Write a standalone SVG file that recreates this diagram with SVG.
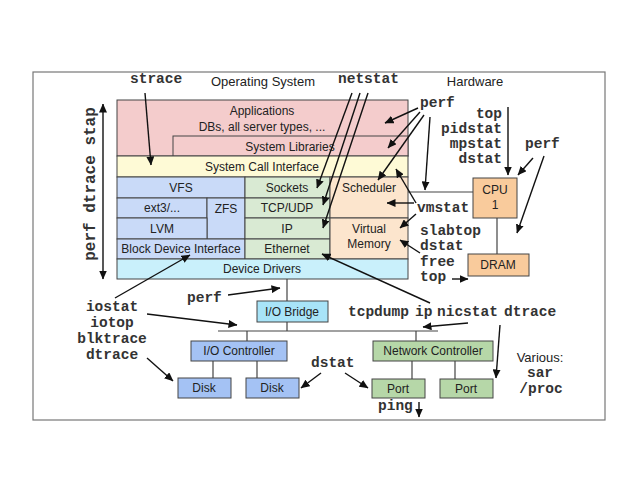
<svg xmlns="http://www.w3.org/2000/svg" width="638" height="493" viewBox="0 0 638 493">
<defs>
<marker id="ah" markerUnits="userSpaceOnUse" markerWidth="9" markerHeight="8" viewBox="0 0 9 8" refX="8.5" refY="4" orient="auto-start-reverse"><path d="M0,0 L9,4 L0,8 z" fill="#111"/></marker>
</defs>
<style>
.bx{stroke:#444;stroke-width:1}
.t{font-family:"Liberation Sans",Arial,sans-serif;font-size:12px;fill:#222;text-anchor:middle}
.h{font-family:"Liberation Sans",Arial,sans-serif;font-size:13px;fill:#222;text-anchor:middle}
.m{font-family:"Liberation Mono","Courier New",monospace;font-size:14.5px;font-weight:bold;fill:#333}
.c{text-anchor:middle}
.r{text-anchor:end}
.a{stroke:#111;stroke-width:1.4;fill:none;marker-end:url(#ah)}
.l{stroke:#444;stroke-width:1.2;fill:none}
.pk{fill:#f4cccc}.yl{fill:#fefad6}.bl{fill:#c9daf8}.gn{fill:#d9ead3}.or{fill:#fce5cd}.cy{fill:#c9f0fb}
.hw{fill:#f9cb9c}.br{fill:#a8e4f8}.db{fill:#a4c2f4}.dg{fill:#b6d7a8}
</style>
<rect x="0" y="0" width="638" height="493" fill="#fff"/>
<rect x="33" y="72" width="572" height="348" fill="#fff" stroke="#777" stroke-width="1.2"/>
<text class="h" x="263" y="86">Operating System</text>
<text class="h" x="475" y="86">Hardware</text>

<g id="applications"><rect class="bx pk" x="117" y="100" width="291" height="56"/><text class="t" x="262" y="115">Applications</text><text class="t" x="262" y="131">DBs, all server types, ...</text></g>
<g id="system-libraries"><rect class="bx pk" x="173" y="136" width="235" height="20"/><text class="t" x="290" y="151">System Libraries</text></g>
<g id="system-call-interface"><rect class="bx yl" x="117" y="156" width="291" height="21"/><text class="t" x="262" y="171">System Call Interface</text></g>
<g id="vfs"><rect class="bx bl" x="117" y="177" width="128" height="21"/><text class="t" x="181" y="192">VFS</text></g>
<g id="ext3"><rect class="bx bl" x="117" y="198" width="90" height="20"/><text class="t" x="162" y="212">ext3/...</text></g>
<g id="zfs"><rect class="bx bl" x="207" y="198" width="38" height="41"/><text class="t" x="226" y="213">ZFS</text></g>
<g id="lvm"><rect class="bx bl" x="117" y="218" width="90" height="21"/><text class="t" x="162" y="233">LVM</text></g>
<g id="block-device-interface"><rect class="bx bl" x="117" y="239" width="128" height="20"/><text class="t" x="181" y="253">Block Device Interface</text></g>
<g id="sockets"><rect class="bx gn" x="245" y="177" width="85" height="21"/><text class="t" x="287" y="192">Sockets</text></g>
<g id="tcp-udp"><rect class="bx gn" x="245" y="198" width="85" height="20"/><text class="t" x="287" y="212">TCP/UDP</text></g>
<g id="ip"><rect class="bx gn" x="245" y="218" width="85" height="21"/><text class="t" x="287" y="233">IP</text></g>
<g id="ethernet"><rect class="bx gn" x="245" y="239" width="85" height="20"/><text class="t" x="287" y="253">Ethernet</text></g>
<g id="scheduler"><rect class="bx or" x="330" y="177" width="78" height="41"/><text class="t" x="369" y="192">Scheduler</text></g>
<g id="virtual-memory"><rect class="bx or" x="330" y="218" width="78" height="41"/><text class="t" x="369" y="233">Virtual</text><text class="t" x="369" y="248">Memory</text></g>
<g id="device-drivers"><rect class="bx cy" x="117" y="259" width="291" height="20"/><text class="t" x="262" y="273">Device Drivers</text></g>
<g id="cpu"><rect class="bx hw" x="473" y="178" width="44" height="40"/><text class="t" x="495" y="194">CPU</text><text class="t" x="495" y="209">1</text></g>
<g id="dram"><rect class="bx hw" x="468" y="254" width="61" height="22"/><text class="t" x="498" y="269">DRAM</text></g>
<g id="io-bridge"><rect class="bx br" x="257" y="301" width="71" height="21"/><text class="t" x="292" y="316">I/O Bridge</text></g>
<g id="io-controller"><rect class="bx db" x="191" y="341" width="96" height="20"/><text class="t" x="239" y="355">I/O Controller</text></g>
<g id="disk-1"><rect class="bx db" x="178" y="378" width="53" height="20"/><text class="t" x="204" y="392">Disk</text></g>
<g id="disk-2"><rect class="bx db" x="246" y="378" width="53" height="20"/><text class="t" x="272" y="392">Disk</text></g>
<g id="network-controller"><rect class="bx dg" x="373" y="341" width="120" height="20"/><text class="t" x="433" y="355">Network Controller</text></g>
<g id="port-1"><rect class="bx dg" x="372" y="379" width="53" height="19"/><text class="t" x="398" y="393">Port</text></g>
<g id="port-2"><rect class="bx dg" x="440" y="379" width="53" height="19"/><text class="t" x="466" y="393">Port</text></g>

<g id="connectors">
<path class="l" d="M408,192 H473"/>
<path class="l" d="M497,218 V254"/>
<path class="l" d="M287,279 V301"/>
<path class="l" d="M287,322 V331"/>
<path class="l" d="M218,331 H438"/>
<path class="l" d="M247,331 V341"/>
<path class="l" d="M416,331 V341"/>
<path class="l" d="M213,361 V378"/>
<path class="l" d="M257,361 V378"/>
<path class="l" d="M412,361 V379"/>
<path class="l" d="M455,361 V379"/>
<path class="a" d="M145,93 L151,165"/>
<path class="a" d="M103,104 V279" marker-start="url(#ah)"/>
<path class="a" d="M352,93 L317,188"/>
<path class="a" d="M360,93 L323,205"/>
<path class="a" d="M368,93 L323,228"/>
<path class="a" d="M418,108 L385,123"/>
<path class="a" d="M420,112 L388,148"/>
<path class="a" d="M424,115 L378,180"/>
<path class="a" d="M430,117 L425,190"/>
<path class="a" d="M508,107 V175"/>
<path class="a" d="M533,158 L518,175"/>
<path class="a" d="M544,156 L517,233"/>
<path class="a" d="M414,203 L387,203"/>
<path class="a" d="M416,203 L396,169"/>
<path class="a" d="M416,214 L400,228"/>
<path class="a" d="M420,253 L400,240"/>
<path class="a" d="M452,279 L468,279"/>
<path class="a" d="M430,303 L322,254"/>
<path class="a" d="M115,298 L190,255"/>
<path class="a" d="M228,295 L280,288"/>
<path class="a" d="M147,314 L237,325"/>
<path class="a" d="M147,358 L173,381"/>
<path class="a" d="M321,373 L301,388"/>
<path class="a" d="M345,373 L368,388"/>
<path class="a" d="M419,402 V417"/>
<path class="a" d="M468,323 L423,327"/>
<path class="a" d="M500,325 L496,378"/>
</g>

<g id="labels">
<text class="m" x="130" y="83">strace</text>
<text class="m" x="338" y="83">netstat</text>
<text class="m" x="420" y="107">perf</text>
<text class="m r" x="502" y="118">top</text>
<text class="m r" x="502" y="133">pidstat</text>
<text class="m r" x="502" y="148">mpstat</text>
<text class="m r" x="502" y="163">dstat</text>
<text class="m" x="525" y="148">perf</text>
<text class="m" x="417" y="212">vmstat</text>
<text class="m" x="420" y="235">slabtop</text>
<text class="m" x="420" y="250">dstat</text>
<text class="m" x="420" y="266">free</text>
<text class="m" x="420" y="281">top</text>
<text class="m c" transform="translate(95,184) rotate(-90)" x="0" y="0" style="font-size:16px">perf dtrace stap</text>
<text class="m" x="187" y="302">perf</text>
<text class="m c" x="112" y="311">iostat</text>
<text class="m c" x="112" y="327">iotop</text>
<text class="m c" x="112" y="343">blktrace</text>
<text class="m c" x="112" y="359">dtrace</text>
<text class="m" x="311" y="367">dstat</text>
<text class="m" x="378" y="410">ping</text>
<text class="m" x="348" y="316">tcpdump</text>
<text class="m" x="415" y="316">ip</text>
<text class="m" x="437" y="316">nicstat</text>
<text class="m" x="504" y="316">dtrace</text>
<text class="h" x="540" y="362">Various:</text>
<text class="m c" x="540" y="377">sar</text>
<text class="m c" x="541" y="393">/proc</text>
</g>
</svg>
